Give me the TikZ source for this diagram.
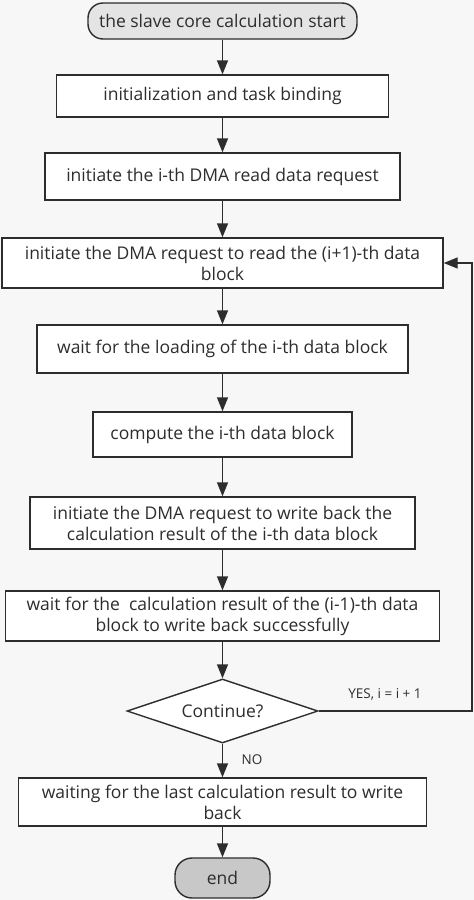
\documentclass[tikz,border=0pt]{standalone}
\usepackage{fontspec}
\setmainfont{Open Sans}
\usepackage{tikz}
\usetikzlibrary{arrows.meta,shapes.geometric}
\definecolor{ink}{RGB}{45,45,45}
\definecolor{pagegray}{RGB}{247,247,247}
\definecolor{startgray}{RGB}{228,228,228}
\definecolor{endgray}{RGB}{200,200,200}

\begin{document}
\begin{tikzpicture}[x=1pt, y=-1pt,
    every node/.style={font=\fontsize{17.5}{21}\selectfont, text=ink},
    proc/.style={draw=ink, line width=1.4pt, fill=white, align=center, inner sep=0pt},
    term/.style={proc, rounded corners=15pt},
    decide/.style={draw=ink, line width=1.4pt, fill=white, diamond, aspect=3, inner sep=0pt},
    flow/.style={draw=ink, line width=1.4pt, -{Triangle[length=14pt,width=11pt]}},
    tag/.style={font=\fontsize{13.5}{16}\selectfont}]
  \fill[pagegray] (0,0) rectangle (474,900);
  \useasboundingbox (0,0) rectangle (474,900);
  \node[term, fill=startgray, minimum width=269pt, minimum height=36pt] (start) at (222.5,21) {the slave core calculation start};
  \node[proc, minimum width=332pt, minimum height=42pt] (b1) at (222.5,96) {initialization and task binding};
  \node[proc, minimum width=355pt, minimum height=47pt] (b2) at (222.5,176.5) {initiate the i-th DMA read data request};
  \node[proc, minimum width=441pt, minimum height=50pt] (b3) at (222.5,263) {initiate the DMA request to read the (i+1)-th data\\block};
  \node[proc, minimum width=371pt, minimum height=48pt] (b4) at (222.5,349) {wait for the loading of the i-th data block};
  \node[proc, minimum width=259pt, minimum height=45pt] (b5) at (222.5,434.5) {compute the i-th data block};
  \node[proc, minimum width=385pt, minimum height=52pt] (b6) at (222.5,523) {initiate the DMA request to write back the\\calculation result of the i-th data block};
  \node[proc, minimum width=434pt, minimum height=50pt] (b7) at (222.5,616) {wait for the \ calculation result of the (i-1)-th data\\block to write back successfully};
  \node[decide, minimum width=191pt, minimum height=64pt] (dec) at (222.5,711) {Continue?};
  \node[proc, minimum width=408pt, minimum height=48pt] (b8) at (222.5,802) {waiting for the last calculation result to write\\back};
  \node[term, fill=endgray, minimum width=95pt, minimum height=40pt, rounded corners=17pt] (end) at (222.5,878) {end};
  \foreach \a/\b in {start/b1,b1/b2,b2/b3,b3/b4,b4/b5,b5/b6,b6/b7,b7/dec,dec/b8,b8/end}
    \draw[flow] (\a.south) -- (\b.north);
  \coordinate (loop) at (472,711);
  \draw[flow] (dec.east) -- (loop) |- (b3.east);
  \node[tag] (yes) at (385,694) {YES, i = i + 1};
  \node[tag] (no) at (252,760) {NO};
\end{tikzpicture}
\end{document}
